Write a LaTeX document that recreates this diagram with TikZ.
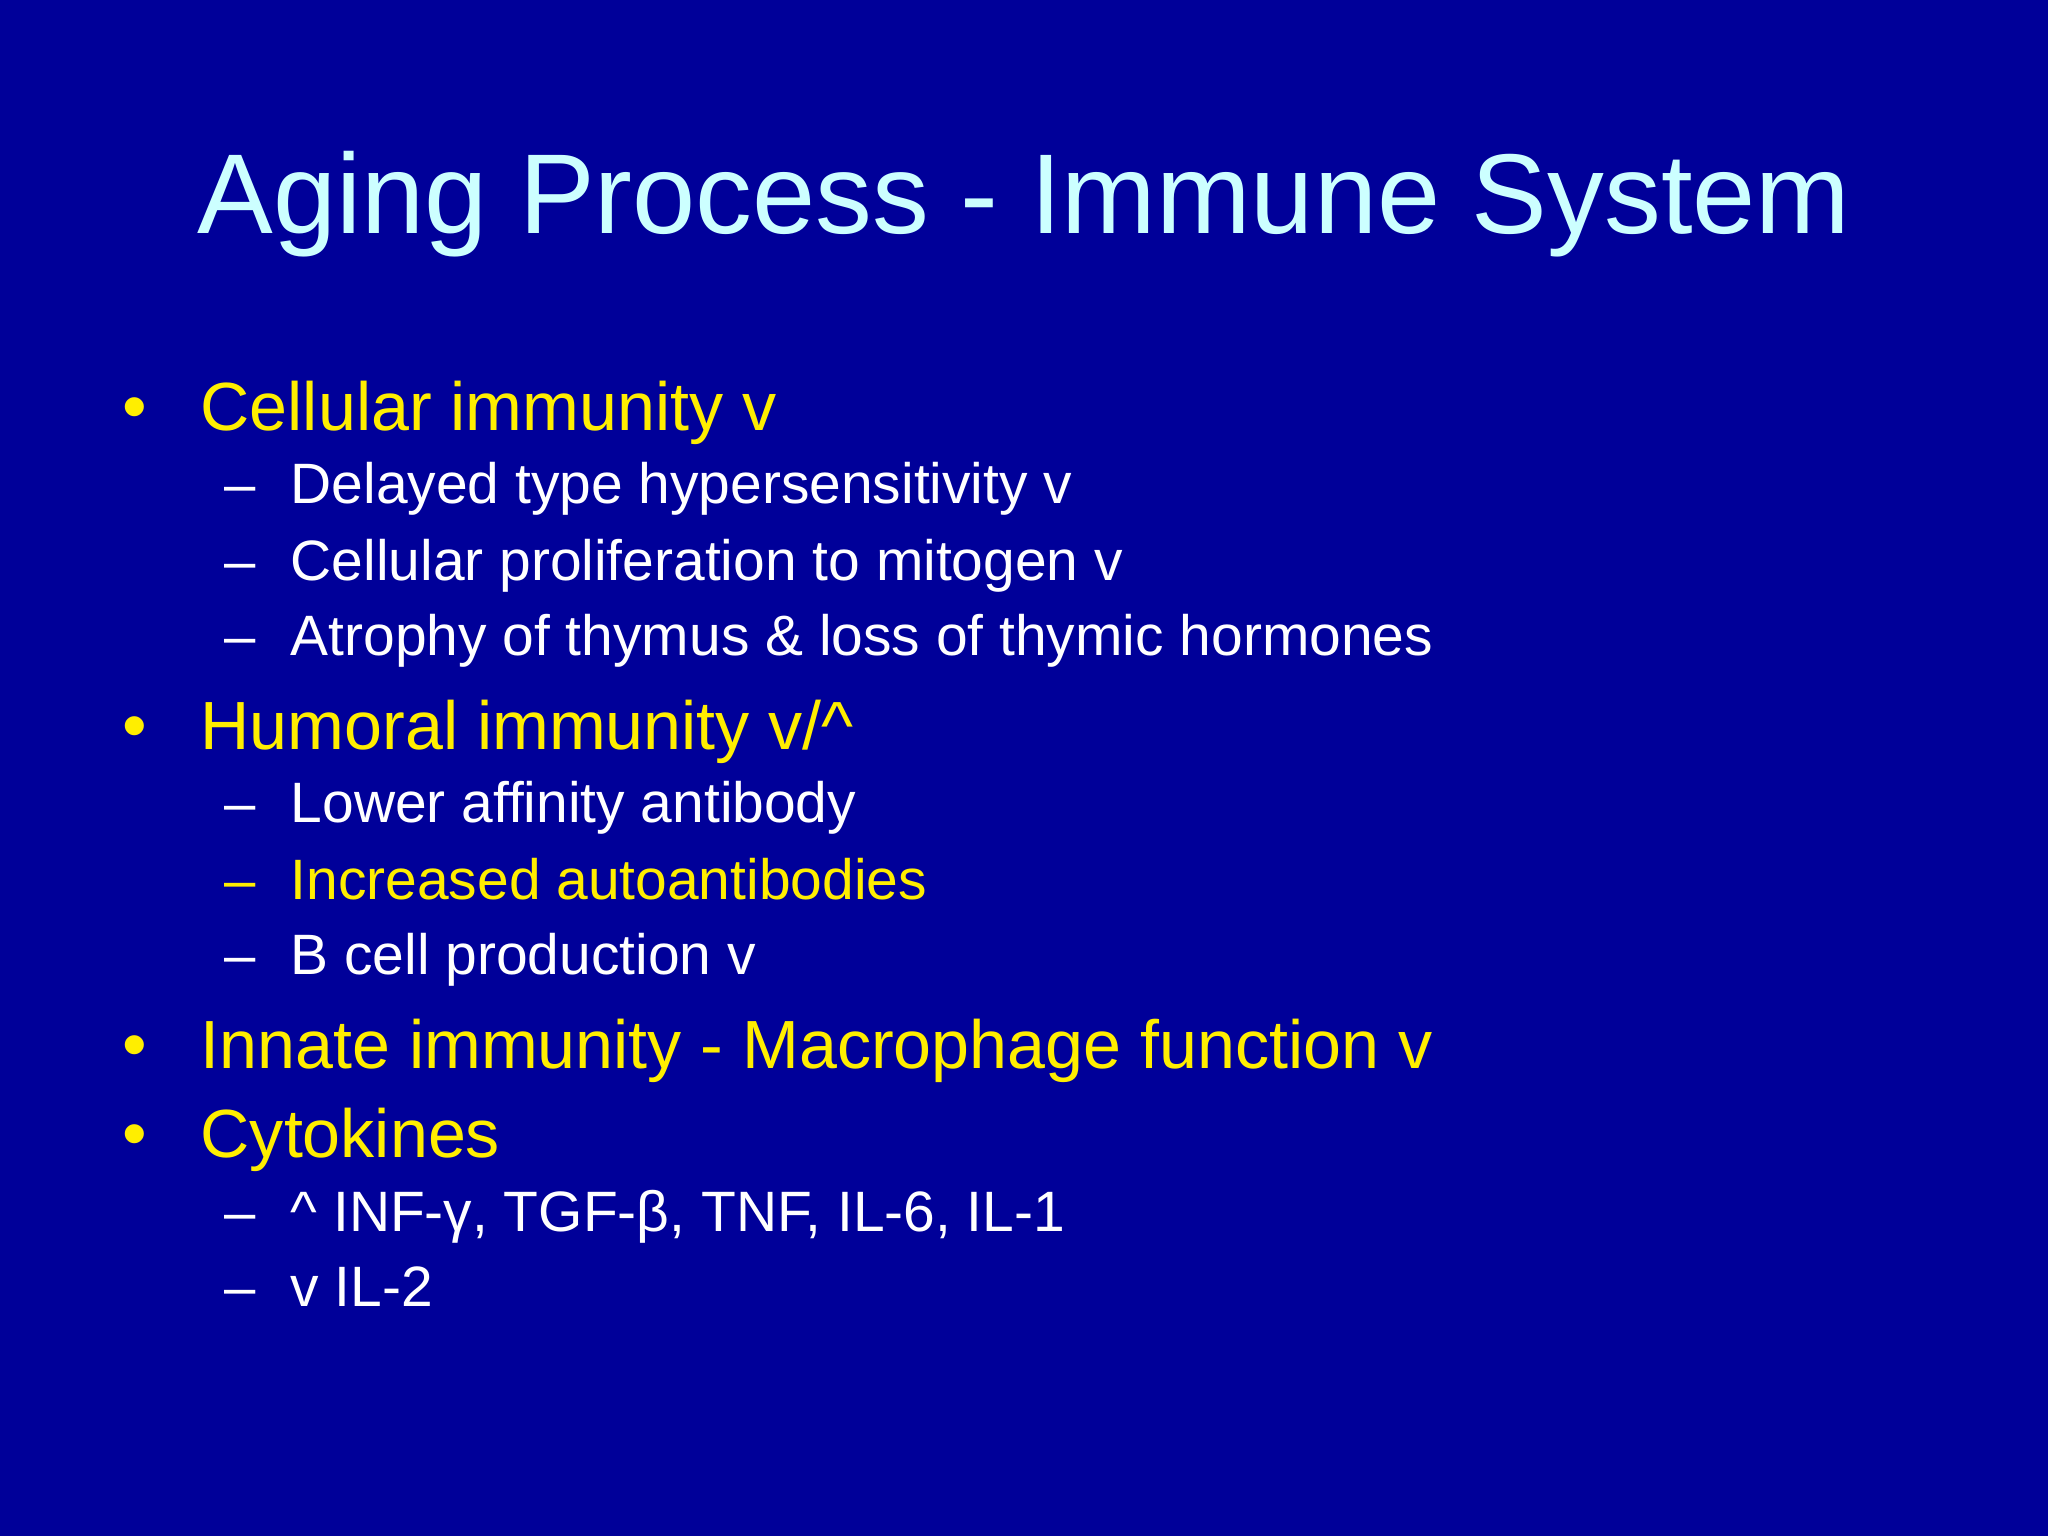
\documentclass[tikz,border=0pt]{standalone}
\usepackage{fontspec}
\setmainfont{Liberation Sans}
\usetikzlibrary{positioning}
\definecolor{slideblue}{RGB}{0, 0, 153}
\definecolor{titlecyan}{RGB}{204, 255, 255}
\definecolor{pointyellow}{RGB}{255, 238, 0}

\begin{document}
\begin{tikzpicture}[
        x=1cm, y=-1cm,
        lvlone/.style={anchor=base west, inner sep=0pt, text=pointyellow, font=\fontsize{19.4pt}{23pt}\selectfont},
        lvltwo/.style={anchor=base west, inner sep=0pt, text=white, font=\fontsize{16.2pt}{19pt}\selectfont},
        bulletmark/.style={anchor=base west, inner sep=0pt, text=pointyellow, font=\fontsize{20pt}{24pt}\selectfont},
        dashmark/.style={anchor=base west, inner sep=0pt, text=white, font=\fontsize{16pt}{19pt}\selectfont}
    ]
        % Background
        \fill[slideblue] (0, 0) rectangle (20.48, 15.36);
        \useasboundingbox (0, 0) rectangle (20.48, 15.36);

        % Title
        \node[anchor=base, inner sep=0pt, text=titlecyan, font=\fontsize{32.3pt}{36pt}\selectfont] (title) at (10.24, 2.34) {Aging Process - Immune System};

        % Cellular immunity
        \node[bulletmark] (b1) at (1.22, 4.31) {•};
        \node[lvlone] (cell) at (2.0, 4.31) {Cellular immunity v};
        \node[dashmark] (d1) at (2.24, 5.04) {–};
        \node[lvltwo] (dth) at (2.9, 5.04) {Delayed type hypersensitivity v};
        \node[dashmark] (d2) at (2.24, 5.80) {–};
        \node[lvltwo] (prol) at (2.9, 5.80) {Cellular proliferation to mitogen v};
        \node[dashmark] (d3) at (2.24, 6.56) {–};
        \node[lvltwo] (thym) at (2.9, 6.56) {Atrophy of thymus \& loss of thymic hormones};

        % Humoral immunity
        \node[bulletmark] (b2) at (1.22, 7.50) {•};
        \node[lvlone] (hum) at (2.0, 7.50) {Humoral immunity v/\^{}};
        \node[dashmark] (d4) at (2.24, 8.23) {–};
        \node[lvltwo] (aff) at (2.9, 8.23) {Lower affinity antibody};
        \node[dashmark, text=pointyellow] (d5) at (2.24, 8.99) {–};
        \node[lvltwo, text=pointyellow] (auto) at (2.9, 8.99) {Increased autoantibodies};
        \node[dashmark] (d6) at (2.24, 9.75) {–};
        \node[lvltwo] (bcell) at (2.9, 9.75) {B cell production v};

        % Innate immunity
        \node[bulletmark] (b3) at (1.22, 10.68) {•};
        \node[lvlone] (innate) at (2.0, 10.68) {Innate immunity - Macrophage function v};

        % Cytokines
        \node[bulletmark] (b4) at (1.22, 11.57) {•};
        \node[lvlone] (cyto) at (2.0, 11.57) {Cytokines};
        \node[dashmark] (d7) at (2.24, 12.31) {–};
        \node[lvltwo] (up) at (2.9, 12.31) {\^{} INF-γ, TGF-β, TNF, IL-6, IL-1};
        \node[dashmark] (d8) at (2.24, 13.06) {–};
        \node[lvltwo] (down) at (2.9, 13.06) {v IL-2};
    \end{tikzpicture}
\end{document}
